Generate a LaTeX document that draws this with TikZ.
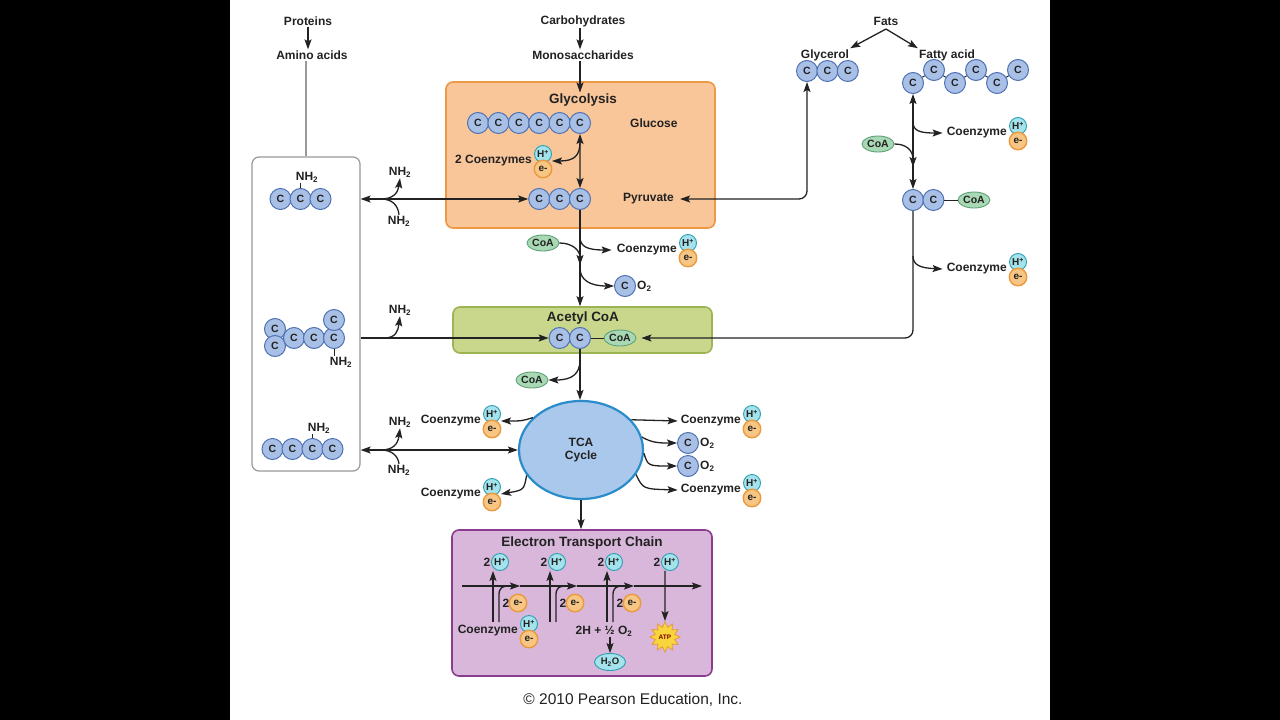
\documentclass[tikz,border=0pt]{standalone}
\usepackage{fontspec}
\setmainfont{Liberation Sans}
\usetikzlibrary{arrows.meta, shapes.geometric, positioning}

\definecolor{cfill}{HTML}{A9C0E6}
\definecolor{cbord}{HTML}{4F72B3}
\definecolor{hfill}{HTML}{A5E3EC}
\definecolor{hbord}{HTML}{2C9FB3}
\definecolor{efill}{HTML}{F7C684}
\definecolor{ebord}{HTML}{EA9A3C}
\definecolor{gfill}{HTML}{A8D8B4}
\definecolor{gbord}{HTML}{5FA27A}
\definecolor{glyfill}{HTML}{F9C69A}
\definecolor{glybord}{HTML}{EC9845}
\definecolor{acfill}{HTML}{C9D78D}
\definecolor{acbord}{HTML}{9DB455}
\definecolor{tcafill}{HTML}{A9C8EC}
\definecolor{tcabord}{HTML}{2A8CCB}
\definecolor{etcfill}{HTML}{D8B7DA}
\definecolor{etcbord}{HTML}{8A3D8E}
\definecolor{atpfill}{HTML}{F8D53A}
\definecolor{ink}{HTML}{222222}

\tikzset{
  lbl/.style={font=\fontsize{12}{13}\selectfont\bfseries, text=ink, inner sep=1pt},
  ttl/.style={font=\fontsize{13.5}{15}\selectfont\bfseries, text=ink, inner sep=1pt},
  carbon/.style={circle, draw=cbord, fill=cfill, line width=1pt, minimum size=21pt,
    inner sep=0pt, font=\fontsize{10.5}{10}\selectfont\bfseries, text=ink},
  hion/.style={circle, draw=hbord, fill=hfill, line width=0.9pt, minimum size=17pt,
    inner sep=0pt, font=\fontsize{10}{10}\selectfont\bfseries, text=ink},
  eion/.style={circle, draw=ebord, fill=efill, line width=1.4pt, minimum size=17.5pt,
    inner sep=0pt, font=\fontsize{10}{10}\selectfont\bfseries, text=ink},
  coa/.style={ellipse, draw=gbord, fill=gfill, line width=0.9pt, minimum width=32pt,
    minimum height=16pt, inner sep=0pt, font=\fontsize{10.5}{10}\selectfont\bfseries, text=ink},
  stage/.style={rounded corners=7pt, line width=1.6pt},
  arr/.style={-{Stealth[length=10pt,width=7pt,inset=2pt]}, line width=1.3pt, draw=ink},
  dbl/.style={{Stealth[length=10pt,width=7pt,inset=2pt]}-{Stealth[length=10pt,width=7pt,inset=2pt]}, line width=1.3pt, draw=ink},
  bond/.style={line width=1pt, draw=ink},
}

% label + H+/e- pair: name, x, y, text
\newcommand\coenz[4]{%
  \node[lbl, anchor=east] (#1) at (#2-10,#3) {#4};
  \node[hion] (#1h) at (#2,#3-7) {H\textsuperscript{+}};
  \node[eion] (#1e) at (#2,#3+8) {e-};
  \coordinate (#1p) at (#2+9,#3);}
% C + O2
\newcommand\cotwo[3]{%
  \node[carbon] (#1) at (#2,#3) {C};
  \node[lbl, right=0pt of #1] (#1o) {O\textsubscript{2}};}
\newcommand\nhtwo{NH\textsubscript{2}}

\begin{document}
\begin{tikzpicture}[x=1pt, y=-1pt]
\useasboundingbox (0,0) rectangle (1280,720);
\fill[black] (0,0) rectangle (230,720);
\fill[black] (1050,0) rectangle (1280,720);
\fill[white] (230,0) rectangle (1050,720);

% stage boxes
\node[stage, draw=gray!80, fill=white, minimum width=108, minimum height=314, line width=1.2pt] (aabox) at (306,314) {};
\node[stage, draw=glybord, fill=glyfill, minimum width=269, minimum height=146] (glybox) at (580.5,155) {};
\node[stage, draw=acbord, fill=acfill, minimum width=259, minimum height=46] (acbox) at (582.5,330) {};
\node[stage, draw=etcbord, fill=etcfill, minimum width=260, minimum height=146] (etcbox) at (582,603) {};
\node[ellipse, draw=tcabord, fill=tcafill, line width=2.2pt, minimum width=124, minimum height=98,
  align=center, lbl] (tca) at (581,450) {TCA\\Cycle};

% sources
\node[lbl] (prot) at (308,21) {Proteins};
\node[lbl] (amino) at (312,55) {Amino acids};
\draw[arr] (prot.south) -- (prot.south |- amino.north);
\draw[gray!80, line width=1.2pt] (amino.south -| aabox.north) -- (aabox.north);
\node[lbl] (carbs) at (583,21) {Carbohydrates};
\node[lbl] (mono) at (583,55) {Monosaccharides};
\node[lbl] (fats) at (886,21) {Fats};
\node[lbl] (glyc) at (825,55) {Glycerol};
\node[lbl] (fatty) at (947,55) {Fatty acid};
\coordinate (fs) at (886,29);
\draw[arr] (fs) -- (glyc.north east);
\draw[arr] (fs) -- (fatty.north west);

% glycolysis
\node[ttl] (glytitle) at (583,100) {Glycolysis};
\foreach \i in {1,...,6} \node[carbon] (g\i) at ({457.6+20.4*\i},123) {C};
\foreach \i in {1,2,3} \node[carbon] (p\i) at ({518.8+20.4*\i},199) {C};
\node[lbl, right=38pt of g6] (glclbl) {Glucose};
\node[lbl, right=31pt of p3] (pyrlbl) {Pyruvate};
\draw[arr] (carbs.south -| g6) -- (mono.north -| g6);
\draw[arr] (mono.south -| g6) -- (glytitle.north -| g6);
\draw[dbl] (g6) -- (p3);
\coenz{cz0}{543}{161}{2 Coenzymes}
\coordinate (b0) at (580,142);
\draw[arr] (b0) .. controls (580,156) and (574,161) .. (cz0p);

% pyruvate -> acetyl CoA
\node[coa] (coa1) at (543,243) {CoA};
\coenz{cz1}{688}{250}{Coenzyme}
\cotwo{co0}{625}{286}
\draw[arr] (p3.south) -- (acbox.north -| p3);
\coordinate (b1) at (580,237);
\draw[arr] (b1) .. controls (580,247) and (588,250) .. ([xshift=-4pt]cz1.west);
\draw[arr] (coa1.east) .. controls (572,243) and (580,250) .. (580,265);
\coordinate (b2) at (580,268);
\draw[arr] (b2) .. controls (580,280) and (590,286) .. (co0.west);

% acetyl CoA
\node[ttl] (actitle) at (583,318) {Acetyl CoA};
\node[carbon] (a1) at (559.6,338) {C};
\node[carbon] (a2) at (580,338) {C};
\node[coa] (coa2) at (620,338) {CoA};
\draw[bond] (a2) -- (coa2);
\draw[arr] (a2.south) -- (tca.north -| a2);
\node[coa] (coa3) at (532,380) {CoA};
\coordinate (b3) at (580,360);
\draw[arr] (b3) .. controls (580,374) and (572,380) .. (coa3.east);

% TCA cycle products
\coenz{cz2}{492}{421}{Coenzyme}
\coenz{cz3}{492}{494}{Coenzyme}
\coenz{cz4}{752}{421}{Coenzyme}
\coenz{cz5}{752}{490}{Coenzyme}
\cotwo{co1}{688}{443}
\cotwo{co2}{688}{466}
\draw[arr] (tca.146) .. controls (522,421) .. (cz2p);
\draw[arr] (tca.205) .. controls (524,490) .. (cz3p);
\draw[arr] (tca.31) -- ([xshift=-2pt]cz4.west);
\draw[arr] (tca.12) .. controls (652,443) and (660,443) .. (co1.west);
\draw[arr] (tca.357) .. controls (648,466) .. (co2.west);
\draw[arr] (tca.336) .. controls (643,489) .. ([xshift=-2pt]cz5.west);
\draw[arr] (tca.south) -- (etcbox.north -| tca);

% amino acids
\foreach \i in {1,2,3} \node[carbon] (aa\i) at ({260.5+20*\i},199) {C};
\node[lbl] (aan1) at (307,177) {\nhtwo};
\draw[bond] (aa2.north) -- (aa2.north |- aan1.south);
\node[carbon] (ab1) at (275,329) {C};
\node[carbon] (ab2) at (275,346) {C};
\node[carbon] (ab3) at (294,338) {C};
\node[carbon] (ab4) at (314,338) {C};
\node[carbon] (ab5) at (334,338) {C};
\node[carbon] (ab6) at (334,320) {C};
\node[lbl] (abn) at (341,362) {\nhtwo};
\draw[bond] (ab5.south) -- (ab5.south |- abn.north);
\foreach \i in {1,...,4} \node[carbon] (ac\i) at ({252.5+20*\i},449) {C};
\node[lbl] (acn) at (319,428) {\nhtwo};
\draw[bond] (ac3.north) -- (ac3.north |- acn.south);

% deamination links
\node[lbl] (n1u) at (400,172) {\nhtwo};
\node[lbl] (n1d) at (399,221) {\nhtwo};
\draw[dbl] (aabox.east |- p1) -- (p1.west);
\coordinate (j1) at (381,199);
\draw[arr] (j1) .. controls (393,199) and (398,193) .. (n1u.south);
\draw[bond, line width=1.3pt] (n1d.north) .. controls (398,205) and (392,199) .. (j1);
\node[lbl] (n2u) at (400,310) {\nhtwo};
\draw[arr] (aabox.east |- a1) -- (a1.west);
\coordinate (j2) at (384,338);
\draw[arr] (j2) .. controls (396,338) and (398,331) .. (n2u.south);
\node[lbl] (n3u) at (400,422) {\nhtwo};
\node[lbl] (n3d) at (399,470) {\nhtwo};
\draw[dbl] (aabox.east |- tca) -- (tca.west);
\coordinate (j3) at (381,450);
\draw[arr] (j3) .. controls (393,450) and (398,444) .. (n3u.south);
\draw[bond, line width=1.3pt] (n3d.north) .. controls (398,456) and (392,450) .. (j3);

% fats
\foreach \i in {1,2,3} \node[carbon] (gl\i) at ({786.6+20.4*\i},71) {C};
\draw[dbl, rounded corners=8pt] (gl1.south) -- (gl1.south |- pyrlbl) -- ([xshift=5pt]pyrlbl.east);
\node[carbon] (fa1) at (913,83) {C};
\node[carbon] (fa2) at (934,70) {C};
\node[carbon] (fa3) at (955,83) {C};
\node[carbon] (fa4) at (976,70) {C};
\node[carbon] (fa5) at (997,83) {C};
\node[carbon] (fa6) at (1018,70) {C};
\foreach \a/\b in {1/2,2/3,3/4,4/5,5/6} \draw[bond] (fa\a) -- (fa\b);
\node[carbon] (cc1) at (913,200) {C};
\node[carbon] (cc2) at (933.4,200) {C};
\node[coa] (coa5) at (974,200) {CoA};
\draw[bond] (cc2) -- (coa5);
\draw[dbl] (fa1.south) -- (cc1.north);
\coenz{cz6}{1018}{133}{Coenzyme}
\coordinate (b5) at (913,122);
\draw[arr] (b5) .. controls (913,131) and (920,133) .. ([xshift=-3pt]cz6.west);
\node[coa] (coa4) at (878,144) {CoA};
\draw[arr] (coa4.east) .. controls (906,144) and (913,150) .. (913,167);
\draw[arr, rounded corners=8pt] (cc1.south) -- (cc1.south |- coa2) -- ([xshift=5pt]coa2.east);
\coenz{cz7}{1018}{269}{Coenzyme}
\coordinate (b6) at (913,256);
\draw[arr] (b6) .. controls (913,265) and (920,268) .. ([xshift=-3pt]cz7.west);

% electron transport chain
\node[ttl] (etctitle) at (582,543) {Electron Transport Chain};
\coordinate (hL) at (462,586);
\coordinate (h1) at (520,586);
\coordinate (h2) at (577,586);
\coordinate (h3) at (634,586);
\coordinate (hR) at (702,586);
\draw[arr] (hL) -- (h1);
\draw[arr] (h1) -- (h2);
\draw[arr] (h2) -- (h3);
\draw[arr] (h3) -- (hR);
\foreach \n/\x in {1/493,2/550,3/607} {
  \node[lbl] (pt\n) at (\x-6,562) {2};
  \node[hion] (ph\n) at (\x+7,562) {H\textsuperscript{+}};
  \coordinate (up\n) at (\x,622);
  \draw[arr] (up\n) -- (up\n |- ph\n.south);
  \draw[line width=1.3pt, draw=ink] (\x+6,622) -- (\x+6,595) .. controls (\x+6,588) and (\x+9,586) .. (\x+16,586);
  \node[lbl] (et\n) at (\x+13,603) {2};
  \node[eion] (ee\n) at (\x+25,603) {e-};
}
\node[lbl] (pt4) at (657,562) {2};
\node[hion] (ph4) at (670,562) {H\textsuperscript{+}};
\node[star, star points=12, star point ratio=1.5, fill=atpfill, draw=ebord, line width=0.8pt,
  minimum size=30, inner sep=0pt, font=\fontsize{6.5}{7}\selectfont\bfseries, text=red!50!black] (atp) at (665,637) {ATP};
\draw[arr] (ph4.south -| atp) -- (atp.north);
\coenz{cz8}{529}{631}{Coenzyme}
\node[lbl] (wtr) at (604,631) {2H + ½ O\textsubscript{2}};
\node[ellipse, draw=hbord, fill=hfill, line width=0.9pt, minimum width=31, minimum height=17,
  inner sep=0pt, font=\fontsize{9.5}{10}\selectfont\bfseries, text=ink] (h2o) at (610,662) {H\textsubscript{2}O};
\draw[arr] (wtr.south -| h2o) -- (h2o.north);

\node[font=\fontsize{15.5}{17}\selectfont, text=ink] (copy) at (633,700) {\textcopyright{} 2010 Pearson Education, Inc.};
\end{tikzpicture}
\end{document}
